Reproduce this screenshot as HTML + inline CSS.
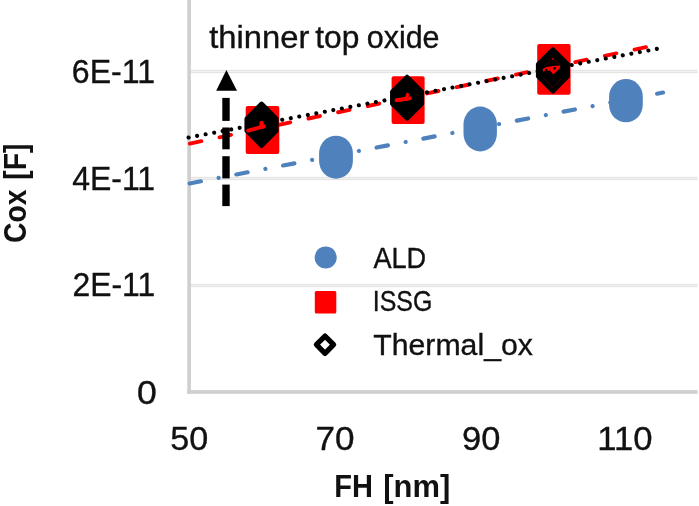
<!DOCTYPE html>
<html lang="en">
<head>
<meta charset="utf-8">
<title>Cox vs FH</title>
<style>
  html, body { margin: 0; padding: 0; background: #ffffff; }
  body { width: 699px; height: 506px; overflow: hidden; }
  svg { display: block; }
  text { font-family: "Liberation Sans", sans-serif; fill: #111111; stroke: #111111; stroke-width: 0.35px; }
  .b text, text.b { font-weight: bold; stroke: none; }
</style>
</head>
<body>
<svg width="699" height="506" viewBox="0 0 699 506">
  <rect x="0" y="0" width="699" height="506" fill="#ffffff"/>

  <!-- gridlines -->
  <g>
    <rect x="190" y="69.7" width="507.6" height="3.6" fill="#f2f2f2"/>
    <rect x="190" y="70" width="507.6" height="1" fill="#e4e4e4"/>
    <rect x="190" y="72" width="507.6" height="1" fill="#e4e4e4"/>
    <rect x="190" y="176.7" width="507.6" height="3.6" fill="#f2f2f2"/>
    <rect x="190" y="177" width="507.6" height="1" fill="#e4e4e4"/>
    <rect x="190" y="179" width="507.6" height="1" fill="#e4e4e4"/>
    <rect x="190" y="283.7" width="507.6" height="3.6" fill="#f2f2f2"/>
    <rect x="190" y="284" width="507.6" height="1" fill="#e4e4e4"/>
    <rect x="190" y="286" width="507.6" height="1" fill="#e4e4e4"/>
  </g>
  <!-- axes -->
  <rect x="187.3" y="0" width="3.6" height="393.8" fill="#cfcfcf"/>
  <rect x="187.3" y="390.1" width="510.3" height="3.7" fill="#cfcfcf"/>

  <!-- ALD trend (dash-dot) -->
  <line x1="189.6" y1="183.45" x2="663" y2="92.55" stroke="#4f81bd" stroke-width="4.2" stroke-linecap="round" stroke-dasharray="11.5 18.05 0.01 18.04"/>

  <!-- ALD markers -->
  <g fill="#4f81bd">
    <rect x="319.1" y="135.7" width="33.8" height="43" rx="16.9" ry="17.6"/>
    <rect x="463.5" y="106.6" width="33.4" height="44.8" rx="16.7" ry="17.6"/>
    <rect x="609.1" y="79" width="33.7" height="43.3" rx="16.85" ry="17.6"/>
  </g>

  <!-- ISSG markers -->
  <g fill="#ff0000">
    <rect x="245.7" y="105.9" width="33.6" height="48" rx="2"/>
    <rect x="391.6" y="76.3" width="33" height="47.6" rx="2"/>
    <rect x="537.2" y="44" width="33.4" height="50.8" rx="2"/>
  </g>

  <!-- ISSG trend (dashed) -->
  <line x1="189.9" y1="143.6" x2="647.5" y2="46.8" stroke="#ff0000" stroke-width="3.9" stroke-linecap="round" stroke-dasharray="11.7 18.6"/>

  <!-- Thermal_ox markers -->
  <g fill="#000000" stroke="#000000" stroke-width="4" stroke-linejoin="round">
    <polygon points="261.55,103.5 276.65,118.6 276.65,130.9 261.55,146 246.45,130.9 246.45,118.6"/>
    <polygon points="407.1,76.6 422.15,91.65 422.15,103.85 407.1,118.9 392.05,103.85 392.05,91.65"/>
    <polygon points="552.95,49.2 568,64.25 568,76.45 552.95,91.5 537.9,76.45 537.9,64.25"/>
  </g>

  <!-- Thermal trend (dotted) -->
  <line x1="188.6" y1="137.5" x2="658" y2="48.65" stroke="#000000" stroke-width="4.1" stroke-linecap="round" stroke-dasharray="0.01 8.655"/>

  <!-- residual red marks seen through the diamonds -->
  <g stroke="#ff0000" fill="none" stroke-linecap="round" stroke-linejoin="round">
    <path d="M248.2,130.6 L263.8,126.4" stroke-width="4"/>
    <path d="M261.6,123 L261.8,127" stroke-width="4.4"/>
    <path d="M396.6,100.2 L409.8,98.3" stroke-width="4"/>
    <path d="M407.6,94.4 L405.9,99.6" stroke-width="3.2"/>
  </g>
  <g fill="none" stroke="#7a0000" stroke-width="1" opacity="0.55">
    <path d="M545.3,65.7 L552.9,58.1 L560.5,65.7"/>
    <path d="M543.5,78 L552.9,87.3 L562.3,78"/>
  </g>
  <path d="M542.6,69.6 C544,66.8 549,66.2 560.2,65.4 L559.8,68.2 L553.3,74.6 L550,70.6 L543.2,71.6 Z" fill="#ff0000"/>
  <circle cx="546.2" cy="70" r="1.3" fill="#000000"/>
  <circle cx="554.5" cy="68.3" r="1.4" fill="#000000"/>
  <circle cx="552.8" cy="59" r="0.9" fill="#d00000"/>

  <!-- arrow -->
  <g fill="#000000">
    <polygon points="226.4,70.1 216.2,90.7 237,90.7"/>
    <rect x="222.3" y="97.9" width="7.4" height="23"/>
    <rect x="222.3" y="127.5" width="7.4" height="21.8"/>
    <rect x="222.3" y="156.2" width="7.4" height="22.2"/>
    <rect x="222.3" y="184.6" width="7.4" height="21.5"/>
  </g>

  <!-- annotation -->
  <g font-size="30.5">
    <text x="209.16" y="48.1" textLength="100.19" lengthAdjust="spacingAndGlyphs">thinner</text>
    <text x="315.18" y="48.1" textLength="44.12" lengthAdjust="spacingAndGlyphs">top</text>
    <text x="366.75" y="48.1" textLength="72.77" lengthAdjust="spacingAndGlyphs">oxide</text>
  </g>

  <!-- y tick labels -->
  <g font-size="32.5">
    <text x="71.87" y="82.8" textLength="83.29" lengthAdjust="spacingAndGlyphs">6E-11</text>
    <text x="72.26" y="189.8" textLength="82.89" lengthAdjust="spacingAndGlyphs">4E-11</text>
    <text x="72.53" y="296.4" textLength="82.62" lengthAdjust="spacingAndGlyphs">2E-11</text>
    <text x="136.93" y="404.2" textLength="19.83" lengthAdjust="spacingAndGlyphs">0</text>
  </g>
  <!-- x tick labels -->
  <g font-size="32.5">
    <text x="170.19" y="449.8" textLength="37.99" lengthAdjust="spacingAndGlyphs">50</text>
    <text x="315.41" y="449.8" textLength="39" lengthAdjust="spacingAndGlyphs">70</text>
    <text x="462.11" y="449.8" textLength="38.28" lengthAdjust="spacingAndGlyphs">90</text>
    <text x="597.33" y="449.8" textLength="55.28" lengthAdjust="spacingAndGlyphs">110</text>
  </g>

  <!-- axis titles -->
  <g class="b" font-size="31.6">
    <text x="334.18" y="497.3" textLength="38.67" lengthAdjust="spacingAndGlyphs">FH</text>
    <text x="383.22" y="497.3" textLength="67.02" lengthAdjust="spacingAndGlyphs">[nm]</text>
  </g>
  <g class="b" font-size="31.6" transform="translate(25.5,250) rotate(-90)">
    <text x="7.01" y="0" textLength="53.43" lengthAdjust="spacingAndGlyphs">Cox</text>
    <text x="70.26" y="0" textLength="36.28" lengthAdjust="spacingAndGlyphs">[F]</text>
  </g>

  <!-- legend -->
  <circle cx="325.7" cy="257.4" r="11" fill="#4f81bd"/>
  <rect x="314.8" y="290.9" width="21.5" height="22.6" rx="1.5" fill="#ff0000"/>
  <polygon points="325,336.1 333.6,344.7 325,353.3 316.4,344.7" fill="#ffffff" stroke="#000000" stroke-width="5.2" stroke-linejoin="round"/>
  <g font-size="29.6">
    <text x="373.4" y="267.8" textLength="52.82" lengthAdjust="spacingAndGlyphs">ALD</text>
    <text x="372.78" y="310.6" textLength="59.59" lengthAdjust="spacingAndGlyphs">ISSG</text>
    <text x="373.23" y="355.3" textLength="159.68" lengthAdjust="spacingAndGlyphs">Thermal_ox</text>
  </g>
</svg>
</body>
</html>
